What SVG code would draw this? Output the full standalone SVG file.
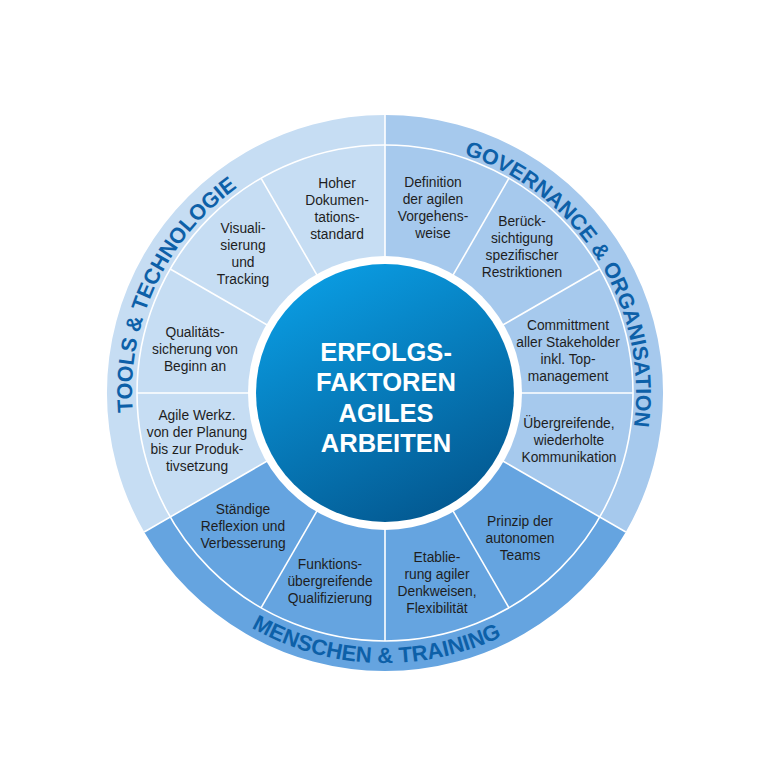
<svg xmlns="http://www.w3.org/2000/svg" width="770" height="780" viewBox="0 0 770 780">
  <defs>
    <linearGradient id="core" x1="0.25" y1="0" x2="0.75" y2="1">
      <stop offset="0" stop-color="#0a9de3"/>
      <stop offset="1" stop-color="#03578f"/>
    </linearGradient>
    <path id="pTools" d="M155.7,499.9 A253,253 0 0 1 319.5,148.6"/>
    <path id="pGov" d="M419.9,144.4 A251,251 0 0 1 623.7,470.6"/>
    <path id="pMen" d="M172.2,559.2 A270,270 0 0 0 585.6,573.7"/>
    <style>
      .seg { font-family: "Liberation Sans", Arial, sans-serif; font-size: 13.8px; fill: #1e1e1e; text-anchor: middle; }
      .band { font-family: "Liberation Sans", Arial, sans-serif; font-size: 21.5px; font-weight: bold; fill: #0d60a8; }
      .core { font-family: "Liberation Sans", Arial, sans-serif; font-size: 25.5px; font-weight: bold; fill: #ffffff; text-anchor: middle; }
      .wl { stroke: #ffffff; stroke-width: 1.6; fill: none; }
    </style>
  </defs>
  <rect width="770" height="780" fill="#ffffff"/>

  <g id="sector-governance">
    <path d="M385,393 L385,115 A278,278 0 0 1 625.8,532 Z" fill="#a6c9ed"/>
  </g>
  <g id="sector-menschen">
    <path d="M385,393 L625.8,532 A278,278 0 0 1 144.2,532 Z" fill="#65a4e0"/>
  </g>
  <g id="sector-tools">
    <path d="M385,393 L144.2,532 A278,278 0 0 1 385,115 Z" fill="#c6ddf3"/>
  </g>

  <g id="connectors">
    <circle class="wl" cx="385" cy="393" r="248"/>
    <line class="wl" x1="521" y1="393" x2="633" y2="393"/>
    <line class="wl" x1="453" y1="510.8" x2="509" y2="607.8"/>
    <line class="wl" x1="385" y1="529" x2="385" y2="641"/>
    <line class="wl" x1="317" y1="510.8" x2="261" y2="607.8"/>
    <line class="wl" x1="249" y1="393" x2="137" y2="393"/>
    <line class="wl" x1="267.2" y1="325" x2="170.2" y2="269"/>
    <line class="wl" x1="317" y1="275.2" x2="261" y2="178.2"/>
    <line class="wl" x1="453" y1="275.2" x2="509" y2="178.2"/>
    <line class="wl" x1="502.8" y1="325" x2="599.8" y2="269"/>
    <line class="wl" x1="502.8" y1="461" x2="625.8" y2="532"/>
    <line class="wl" x1="267.2" y1="461" x2="144.2" y2="532"/>
    <line class="wl" x1="385" y1="257" x2="385" y2="115"/>
  </g>

  <g id="label-tools">
    <text class="band"><textPath href="#pTools" startOffset="50%" text-anchor="middle">TOOLS &amp; TECHNOLOGIE</textPath></text>
  </g>
  <g id="label-governance">
    <text class="band"><textPath href="#pGov" startOffset="50%" text-anchor="middle">GOVERNANCE &amp; ORGANISATION</textPath></text>
  </g>
  <g id="label-menschen">
    <text class="band" style="font-size:22px"><textPath href="#pMen" startOffset="50%" text-anchor="middle">MENSCHEN &amp; TRAINING</textPath></text>
  </g>

  <g id="seg-hoher">
    <text class="seg" x="337" y="187.5">Hoher</text>
    <text class="seg" x="337" y="204.7">Dokumen-</text>
    <text class="seg" x="337" y="221.9">tations-</text>
    <text class="seg" x="337" y="239.1">standard</text>
  </g>
  <g id="seg-visualisierung">
    <text class="seg" x="243" y="232.5">Visuali-</text>
    <text class="seg" x="243" y="249.7">sierung</text>
    <text class="seg" x="243" y="266.9">und</text>
    <text class="seg" x="243" y="284.1">Tracking</text>
  </g>
  <g id="seg-qualitaet">
    <text class="seg" x="195" y="336.5">Qualitäts-</text>
    <text class="seg" x="195" y="353.7">sicherung von</text>
    <text class="seg" x="195" y="370.9">Beginn an</text>
  </g>
  <g id="seg-werkzeuge">
    <text class="seg" x="197" y="419.5">Agile Werkz.</text>
    <text class="seg" x="197" y="436.7">von der Planung</text>
    <text class="seg" x="197" y="453.9">bis zur Produk-</text>
    <text class="seg" x="197" y="471.1">tivsetzung</text>
  </g>
  <g id="seg-reflexion">
    <text class="seg" x="243" y="513.5">Ständige</text>
    <text class="seg" x="243" y="530.7">Reflexion und</text>
    <text class="seg" x="243" y="547.9">Verbesserung</text>
  </g>
  <g id="seg-funktions">
    <text class="seg" x="330" y="568.5">Funktions-</text>
    <text class="seg" x="330" y="585.7">übergreifende</text>
    <text class="seg" x="330" y="602.9">Qualifizierung</text>
  </g>
  <g id="seg-etablierung">
    <text class="seg" x="437" y="561.5">Etablie-</text>
    <text class="seg" x="437" y="578.7">rung agiler</text>
    <text class="seg" x="437" y="595.9">Denkweisen,</text>
    <text class="seg" x="437" y="613.1">Flexibilität</text>
  </g>
  <g id="seg-prinzip">
    <text class="seg" x="520" y="525.5">Prinzip der</text>
    <text class="seg" x="520" y="542.7">autonomen</text>
    <text class="seg" x="520" y="559.9">Teams</text>
  </g>
  <g id="seg-kommunikation">
    <text class="seg" x="569" y="427.5">Übergreifende,</text>
    <text class="seg" x="569" y="444.7">wiederholte</text>
    <text class="seg" x="569" y="461.9">Kommunikation</text>
  </g>
  <g id="seg-committment">
    <text class="seg" x="568" y="329.5">Committment</text>
    <text class="seg" x="568" y="346.7">aller Stakeholder</text>
    <text class="seg" x="568" y="363.9">inkl. Top-</text>
    <text class="seg" x="568" y="381.1">management</text>
  </g>
  <g id="seg-restriktionen">
    <text class="seg" x="522" y="225.5">Berück-</text>
    <text class="seg" x="522" y="242.7">sichtigung</text>
    <text class="seg" x="522" y="259.9">spezifischer</text>
    <text class="seg" x="522" y="277.1">Restriktionen</text>
  </g>
  <g id="seg-definition">
    <text class="seg" x="433" y="186.5">Definition</text>
    <text class="seg" x="433" y="203.7">der agilen</text>
    <text class="seg" x="433" y="220.9">Vorgehens-</text>
    <text class="seg" x="433" y="238.1">weise</text>
  </g>

  <g id="core-node">
    <circle cx="385" cy="393" r="137" fill="#ffffff"/>
    <circle cx="385" cy="393" r="129" fill="url(#core)"/>
    <text class="core" x="386" y="361">ERFOLGS-</text>
    <text class="core" x="386" y="391.3">FAKTOREN</text>
    <text class="core" x="386" y="421.6">AGILES</text>
    <text class="core" x="386" y="451.9">ARBEITEN</text>
  </g>
</svg>
